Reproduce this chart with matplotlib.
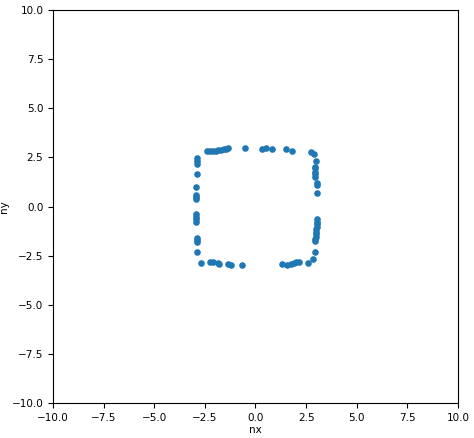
import matplotlib
matplotlib.use("Agg")
import matplotlib.pyplot as plt

# points, grouped by side of the square
top_x = [-2.41, -2.25, -2.12, -1.97, -1.84, -1.71, -1.57, -1.44, -1.35, -0.52, 0.34, 0.5, 0.83, 1.49, 1.79, 2.73, 2.88]
top_y = [2.82, 2.82, 2.83, 2.85, 2.88, 2.9, 2.93, 2.95, 2.96, 2.99, 2.94, 2.99, 2.93, 2.94, 2.84, 2.79, 2.66]

right_x = [2.98, 2.94, 2.94, 2.94, 2.93, 2.93, 3.03, 3.03, 3.03, 3.04, 3.04, 3.03, 3.02, 3.01, 3.0, 2.99, 2.98, 2.96, 2.96, 2.94]
right_y = [2.32, 2.03, 1.94, 1.77, 1.64, 1.5, 1.21, 1.09, 0.7, -0.64, -0.77, -0.91, -1.03, -1.16, -1.28, -1.41, -1.55, -1.67, -1.75, -2.33]

bottom_x = [-2.7, -2.25, -2.09, -1.84, -1.8, -1.35, -1.23, -0.65, 1.29, 1.54, 1.76, 1.89, 2.02, 2.15, 2.61, 2.84]
bottom_y = [-2.86, -2.81, -2.81, -2.88, -2.94, -2.94, -2.96, -2.99, -2.94, -2.96, -2.91, -2.89, -2.84, -2.81, -2.88, -2.69]

left_x = [-2.91, -2.91, -2.91, -2.89, -2.94, -2.96, -2.96, -2.96, -2.96, -2.96, -2.96, -2.96, -2.91, -2.91, -2.91, -2.91]
left_y = [2.45, 2.32, 2.15, 1.65, 1.01, 0.59, 0.47, 0.37, -0.38, -0.52, -0.64, -0.8, -1.59, -1.7, -1.82, -2.33]

nx = top_x + right_x + bottom_x + left_x
ny = top_y + right_y + bottom_y + left_y

plt.rcParams['font.size'] = 7.5
fig = plt.figure(figsize=(4.74, 4.38), dpi=100)
ax = fig.add_axes([0.112, 0.080, 0.854, 0.897])
ax.scatter(nx, ny, s=14, color='tab:blue')
ax.set_xlim(-10, 10)
ax.set_ylim(-10, 10)
ax.set_xlabel('nx', labelpad=2)
ax.set_ylabel('ny', labelpad=2)
fig.savefig('out.png')
